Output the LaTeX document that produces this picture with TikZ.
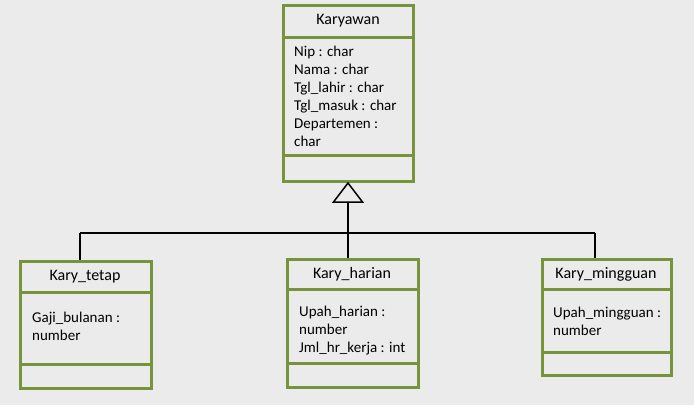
\documentclass[tikz,border=0pt]{standalone}
\usepackage{fontspec}
\setmainfont{Carlito}
\usetikzlibrary{calc}
\definecolor{umlgreen}{HTML}{77933C}
\definecolor{paper}{HTML}{EBEBEB}
\tikzset{
  classbox/.style={draw=umlgreen, line width=3pt},
  classname/.style={font=\fontsize{16}{18}\selectfont, inner sep=0pt},
  attrlist/.style={anchor=north west, align=left, inner sep=0pt, font=\fontsize{15}{18}\selectfont},
  link/.style={draw=black, line width=2pt}
}

\begin{document}
\begin{tikzpicture}[x=1pt, y=-1pt]
  \fill[paper] (0,0) rectangle (694,405);
  \useasboundingbox (0,0) rectangle (694,405);

  % Karyawan
  \draw[classbox] (283,5) rectangle (413,181);
  \draw[classbox] (283,37) -- (413,37);
  \draw[classbox] (283,155) -- (413,155);
  \node[classname] (karyawan) at (348,21) {Karyawan};
  \node[attrlist] (karyawanattr) at (294,46) {Nip : char\\Nama : char\\Tgl\_lahir : char\\Tgl\_masuk : char\\Departemen :\\char};

  % Kary_tetap
  \draw[classbox] (20,261) rectangle (151,388);
  \draw[classbox] (20,292) -- (151,292);
  \draw[classbox] (20,364) -- (151,364);
  \node[classname] (tetap) at (85,277) {Kary\_tetap};
  \node[attrlist] (tetapattr) at (32,312) {Gaji\_bulanan :\\number};

  % Kary_harian
  \draw[classbox] (287,259) rectangle (418,387);
  \draw[classbox] (287,289) -- (418,289);
  \draw[classbox] (287,363) -- (418,363);
  \node[classname] (harian) at (352,274) {Kary\_harian};
  \node[attrlist] (harianattr) at (299,306) {Upah\_harian :\\number\\Jml\_hr\_kerja : int};

  % Kary_mingguan
  \draw[classbox] (542,259) rectangle (671,375);
  \draw[classbox] (542,289) -- (671,289);
  \draw[classbox] (542,352) -- (671,352);
  \node[classname] (mingguan) at (606,274) {Kary\_mingguan};
  \node[attrlist] (mingguanattr) at (553,307) {Upah\_mingguan :\\number};

  % generalisation
  \coordinate (apex) at (348,183);
  \coordinate (base) at (348,202);
  \coordinate (hub) at (348,233);
  \coordinate (lefthub) at (80,233);
  \coordinate (righthub) at (595,233);
  \coordinate (tetaptop) at (80,259.5);
  \coordinate (hariantop) at (348,257.5);
  \coordinate (mingguantop) at (595,257.5);
  \draw[link] (lefthub) -- (righthub);
  \draw[link] (base) -- (hariantop);
  \draw[link] (lefthub) -- (tetaptop);
  \draw[link] (righthub) -- (mingguantop);
  \draw[black, line width=1.5pt, fill=paper] (apex) -- ($(base)+(14.5,0)$) -- ($(base)+(-14.5,0)$) -- cycle;
\end{tikzpicture}
\end{document}
